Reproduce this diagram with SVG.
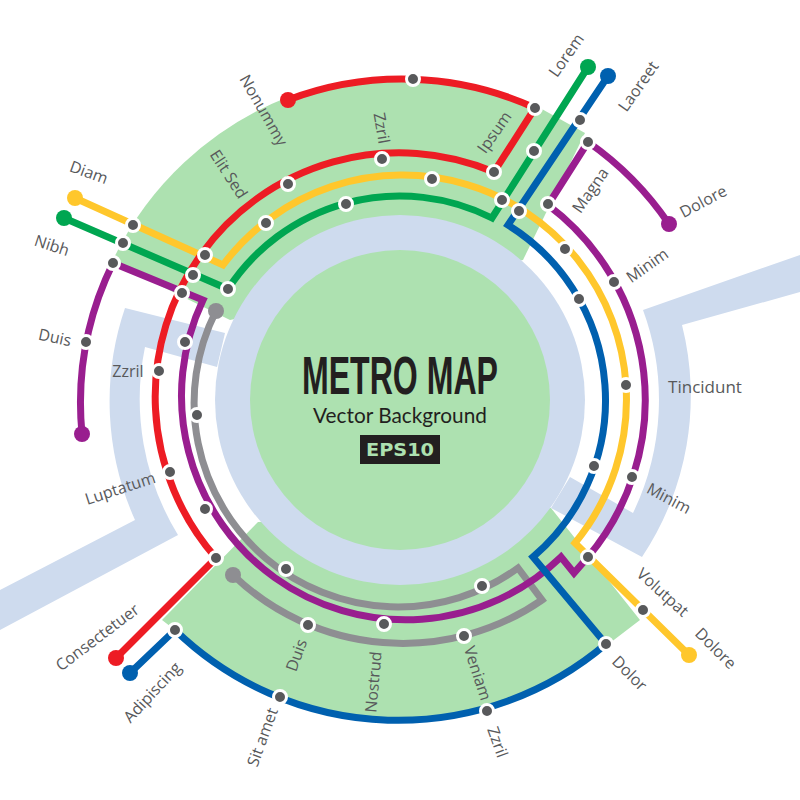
<svg xmlns="http://www.w3.org/2000/svg" width="800" height="800" viewBox="0 0 800 800">
<style>
.line{fill:none;stroke-width:7;stroke-linejoin:miter}
.st{fill:#58595b;stroke:#fff;stroke-width:3}
.lb{font-family:"Open Sans","Noto Sans",sans-serif;font-size:16px;fill:#58595b;text-anchor:middle;dominant-baseline:central}
.red{stroke:#ed1c24}.yel{stroke:#ffc72c}.grn{stroke:#00a651}.blu{stroke:#0060af}.pur{stroke:#991e8f}.gry{stroke:#8e8e92}
</style>
<rect width="800" height="800" fill="#fff"/>
<g id="background">
<path fill="#ade1b0" d="M112,262 A325,325 0 0 1 288,97 A321,321 0 0 1 540,108 L585,133 L523,260 L230,320 Z"/>
<path fill="#ade1b0" d="M162,620 L175,630 A321,321 0 0 0 606,646 L640,620 L551,508 L258,522 Z"/>
<path fill="#cedbee" d="M225,333 L125,308 A290,290 0 0 0 135,520 L0,590 L0,630 L178,535 A260,260 0 0 1 145,347 L217,367 Z"/>
<path fill="#cedbee" d="M800,255 L643,310 A260,260 0 0 1 633,513 L570,477 L551,508 L642,557 A290,290 0 0 0 682,325 L800,292 Z"/>
<circle cx="400" cy="400" r="185" fill="#cedbee"/>
<circle cx="400" cy="400" r="150" fill="#ade1b0"/>
</g>
<g id="connectors">
<path class="line gry" d="M216,311 A204,204 0 0 0 518,568 L542,600 A245,245 0 0 1 233,575"/>
<path class="line pur" d="M669,224 A320,320 0 0 0 588,142 L548,205 A244,244 0 0 1 588,557 L574,573 L561,557 A224,224 0 0 1 203,300 L113,263 A320,320 0 0 0 82,434"/>
<path class="line yel" d="M75,198 L223,265 A224,224 0 0 1 626,385 A226,226 0 0 1 575,543 L689,655"/>
<path class="line red" d="M288,100 A321,321 0 0 1 535,108 L494,172 A244,244 0 0 0 216,558 L116,658"/>
<path class="line grn" d="M64,218 L228,289 A205,205 0 0 1 492,218 L588,67"/>
<path class="line blu" d="M608,76 L508,225 A206,206 0 0 1 533,557 L606,644 A321,321 0 0 1 175,630 L130,673"/>
<circle cx="288" cy="100" r="8" fill="#ed1c24"/><circle cx="116" cy="658" r="8" fill="#ed1c24"/>
<circle cx="75" cy="198" r="8" fill="#ffc72c"/><circle cx="689" cy="655" r="8" fill="#ffc72c"/>
<circle cx="64" cy="218" r="8" fill="#00a651"/><circle cx="588" cy="67" r="8" fill="#00a651"/>
<circle cx="608" cy="76" r="8" fill="#0060af"/><circle cx="130" cy="673" r="8" fill="#0060af"/>
<circle cx="669" cy="224" r="8" fill="#991e8f"/><circle cx="82" cy="434" r="8" fill="#991e8f"/>
<circle cx="216" cy="311" r="8" fill="#8e8e92"/><circle cx="233" cy="575" r="8" fill="#8e8e92"/>
</g>
<g id="stations">
<g id="s1"><circle class="st" cx="413" cy="79" r="6.5"/></g>
<g id="s2"><circle class="st" cx="535" cy="108" r="6.5"/></g>
<g id="s3"><circle class="st" cx="580" cy="120" r="6.5"/></g>
<g id="s4"><circle class="st" cx="588" cy="142" r="6.5"/></g>
<g id="s5"><circle class="st" cx="534" cy="151" r="6.5"/></g>
<g id="s6"><circle class="st" cx="494" cy="172" r="6.5"/></g>
<g id="s7"><circle class="st" cx="502" cy="200" r="6.5"/></g>
<g id="s8"><circle class="st" cx="519" cy="211" r="6.5"/></g>
<g id="s9"><circle class="st" cx="548" cy="204" r="6.5"/></g>
<g id="s10"><circle class="st" cx="432" cy="179" r="6.5"/></g>
<g id="s11"><circle class="st" cx="382" cy="159" r="6.5"/></g>
<g id="s12"><circle class="st" cx="288" cy="184" r="6.5"/></g>
<g id="s13"><circle class="st" cx="266" cy="223" r="6.5"/></g>
<g id="s14"><circle class="st" cx="346" cy="204" r="6.5"/></g>
<g id="s15"><circle class="st" cx="228" cy="289" r="6.5"/></g>
<g id="s16"><circle class="st" cx="205" cy="255" r="6.5"/></g>
<g id="s17"><circle class="st" cx="193" cy="275" r="6.5"/></g>
<g id="s18"><circle class="st" cx="182" cy="293" r="6.5"/></g>
<g id="s19"><circle class="st" cx="133" cy="225" r="6.5"/></g>
<g id="s20"><circle class="st" cx="123" cy="243" r="6.5"/></g>
<g id="s21"><circle class="st" cx="113" cy="263" r="6.5"/></g>
<g id="s22"><circle class="st" cx="86" cy="342" r="6.5"/></g>
<g id="s23"><circle class="st" cx="185" cy="342" r="6.5"/></g>
<g id="s24"><circle class="st" cx="159" cy="371" r="6.5"/></g>
<g id="s25"><circle class="st" cx="197" cy="415" r="6.5"/></g>
<g id="s26"><circle class="st" cx="170" cy="472" r="6.5"/></g>
<g id="s27"><circle class="st" cx="205" cy="509" r="6.5"/></g>
<g id="s28"><circle class="st" cx="216" cy="558" r="6.5"/></g>
<g id="s29"><circle class="st" cx="286" cy="569" r="6.5"/></g>
<g id="s30"><circle class="st" cx="384" cy="624" r="6.5"/></g>
<g id="s31"><circle class="st" cx="308" cy="625" r="6.5"/></g>
<g id="s32"><circle class="st" cx="464" cy="636" r="6.5"/></g>
<g id="s33"><circle class="st" cx="482" cy="586" r="6.5"/></g>
<g id="s34"><circle class="st" cx="280" cy="697" r="6.5"/></g>
<g id="s35"><circle class="st" cx="487" cy="711" r="6.5"/></g>
<g id="s36"><circle class="st" cx="606" cy="644" r="6.5"/></g>
<g id="s37"><circle class="st" cx="175" cy="630" r="6.5"/></g>
<g id="s38"><circle class="st" cx="643" cy="610" r="6.5"/></g>
<g id="s39"><circle class="st" cx="588" cy="557" r="6.5"/></g>
<g id="s40"><circle class="st" cx="594" cy="466" r="6.5"/></g>
<g id="s41"><circle class="st" cx="632" cy="477" r="6.5"/></g>
<g id="s42"><circle class="st" cx="626" cy="385" r="6.5"/></g>
<g id="s43"><circle class="st" cx="614" cy="282" r="6.5"/></g>
<g id="s44"><circle class="st" cx="579" cy="299" r="6.5"/></g>
<g id="s45"><circle class="st" cx="565" cy="249" r="6.5"/></g>
</g>
<g id="labels">
<text class="lb" transform="translate(566,55) rotate(-55)">Lorem</text>
<text class="lb" transform="translate(638,86) rotate(-55)">Laoreet</text>
<text class="lb" transform="translate(494,132) rotate(-55)">Ipsum</text>
<text class="lb" transform="translate(590,190) rotate(-55)">Magna</text>
<text class="lb" transform="translate(703,201) rotate(-28)">Dolore</text>
<text class="lb" transform="translate(647,265) rotate(-35)">Minim</text>
<text class="lb" transform="translate(705,386)" style="font-size:17px">Tincidunt</text>
<text class="lb" transform="translate(669,498) rotate(28)">Minim</text>
<text class="lb" transform="translate(663,592) rotate(42)">Volutpat</text>
<text class="lb" transform="translate(716,648) rotate(45)">Dolore</text>
<text class="lb" transform="translate(630,673) rotate(45)">Dolor</text>
<text class="lb" transform="translate(498,742) rotate(70)">Zzril</text>
<text class="lb" transform="translate(478,673) rotate(72)">Veniam</text>
<text class="lb" transform="translate(373,682) rotate(-85)">Nostrud</text>
<text class="lb" transform="translate(296,655) rotate(-70)">Duis</text>
<text class="lb" transform="translate(262,737) rotate(-70)">Sit amet</text>
<text class="lb" transform="translate(152,692) rotate(-47)">Adipiscing</text>
<text class="lb" transform="translate(97,637) rotate(-37)">Consectetuer</text>
<text class="lb" transform="translate(120,488) rotate(-18)">Luptatum</text>
<text class="lb" transform="translate(128,371)">Zzril</text>
<text class="lb" transform="translate(55,337) rotate(12)">Duis</text>
<text class="lb" transform="translate(52,245) rotate(18)">Nibh</text>
<text class="lb" transform="translate(89,172) rotate(20)">Diam</text>
<text class="lb" transform="translate(229,174) rotate(57)">Elit Sed</text>
<text class="lb" transform="translate(264,110) rotate(60)">Nonummy</text>
<text class="lb" transform="translate(382,128) rotate(80)">Zzril</text>
</g>
<g id="title">
<text x="400" y="394" text-anchor="middle" textLength="196" lengthAdjust="spacingAndGlyphs" style="font-family:'Liberation Sans',sans-serif;font-weight:700;font-size:53px;fill:#231f20">METRO MAP</text>
<text x="400" y="423" text-anchor="middle" style="font-family:Lato,'Open Sans',sans-serif;font-size:20.8px;fill:#231f20">Vector Background</text>
<rect x="360" y="435" width="80" height="29" fill="#231f20"/>
<text x="400" y="456" text-anchor="middle" textLength="68" lengthAdjust="spacingAndGlyphs" style="font-family:'DejaVu Sans',sans-serif;font-weight:700;font-size:18.5px;fill:#ade1b0">EPS10</text>
</g>
</svg>
